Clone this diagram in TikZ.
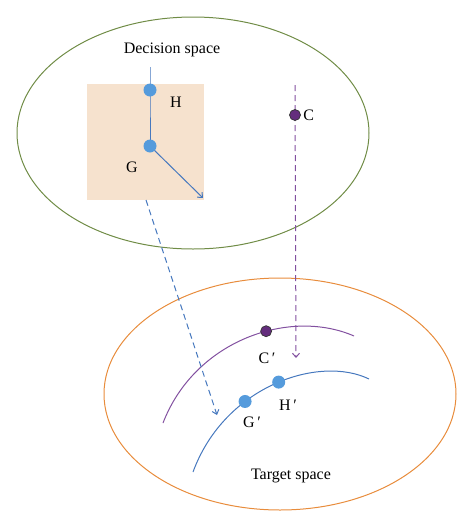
\documentclass[tikz,border=0pt]{standalone}
\usepackage{fontspec}
\setmainfont{Liberation Serif}
\usetikzlibrary{arrows.meta, positioning}
\definecolor{spacegreen}{RGB}{112,140,70}
\definecolor{spaceorange}{RGB}{232,140,60}
\definecolor{boxpeach}{RGB}{246,226,206}
\definecolor{dotblue}{RGB}{85,155,220}
\definecolor{lineblue}{RGB}{70,120,190}
\definecolor{dotpurple}{RGB}{100,45,125}
\definecolor{linepurple}{RGB}{130,80,160}
\tikzset{
  >={Straight Barb[length=4pt, width=7pt]}, % thin open arrow heads
  bluedot/.style={circle, fill=dotblue, inner sep=0pt, minimum size=13pt}, % points G, H, G', H'
  purpledot/.style={circle, fill=dotpurple, draw=black!80, line width=0.7pt, inner sep=0pt, minimum size=11pt}, % points C, C'
  labeltext/.style={font=\fontsize{16}{18}\selectfont, inner sep=1pt}, % every text in the picture
  mapping/.style={->, dash pattern=on 6pt off 4pt}, % the dashed maps between the spaces
}
\begin{document}
\begin{tikzpicture}[x=1pt, y=-1pt, line width=1pt]
    \useasboundingbox (0,0) rectangle (474,528);

    % the two spaces
    \draw[spacegreen] (193,133) ellipse [x radius=176, y radius=116];
    \draw[spaceorange] (280,394) ellipse [x radius=176, y radius=116];
    \fill[boxpeach] (87,84) rectangle (204,200);

    \node[labeltext] (decision) at (172,50) {Decision space};
    \node[labeltext] (target) at (291,476) {Target space};

    % points of the decision space
    \coordinate (Htop) at (150,67);
    \coordinate (H) at (150,90);
    \coordinate (G) at (150,146);
    \coordinate (Gend) at (203,198);
    \coordinate (C) at (295,115);

    % fronts in the target space
    \draw[linepurple] (163,423) .. controls (195,340) and (290,308) .. (354,336)
        coordinate[pos=0.59] (Cp);
    \draw[lineblue] (193,472) .. controls (225,385) and (320,355) .. (369,379)
        coordinate[pos=0.35] (Gp)
        coordinate[pos=0.52] (Hp);

    % moves and maps
    \draw[lineblue] (Htop) -- (H) -- (G);
    \draw[lineblue, ->] (G) -- (Gend);

    \coordinate (Gtail) at (146,200);
    \coordinate (Gtip) at (217,415);
    \coordinate (Ctop) at (295,85);
    \coordinate (Ctip) at (296,358);
    \draw[lineblue, mapping] (Gtail) -- (Gtip);
    \draw[linepurple, mapping] (Ctop) -- (Ctip);

    % the points
    \node[bluedot] (Hdot) at (H) {};
    \node[bluedot] (Gdot) at (G) {};
    \node[purpledot] (Cdot) at (C) {};
    \node[purpledot] (Cpdot) at (Cp) {};
    \node[bluedot] (Gpdot) at (Gp) {};
    \node[bluedot] (Hpdot) at (Hp) {};

    \node[labeltext] (Hlabel) at (176,102) {H};
    \node[labeltext] (Glabel) at (132,167) {G};
    \node[labeltext, right=1pt of Cdot] (Clabel) {C};
    \node[labeltext] (Cplabel) at (267,358) {C\,′};
    \node[labeltext] (Gplabel) at (252,422) {G\,′};
    \node[labeltext] (Hplabel) at (288,405) {H\,′};
\end{tikzpicture}
\end{document}
